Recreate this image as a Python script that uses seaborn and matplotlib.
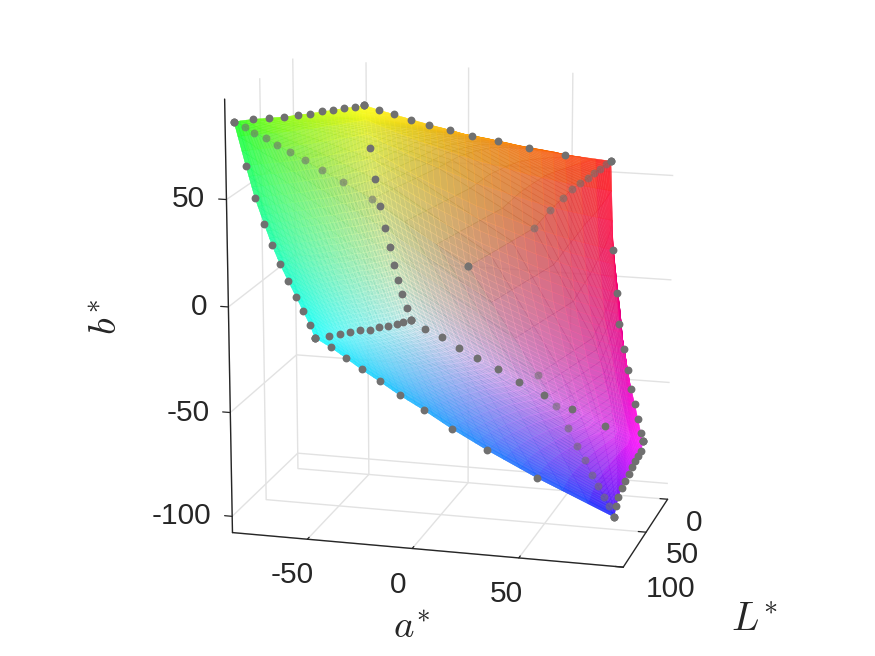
import numpy as np
import matplotlib
matplotlib.use("Agg")
import matplotlib.pyplot as plt
import seaborn as sns
from matplotlib.ticker import NullFormatter
from mpl_toolkits.mplot3d.art3d import Poly3DCollection

# Each edge of the gamut: 11 points, as (L*, a*, b*)
K_R = [(0,0,0),(16.1,35.9,24.8),(24.5,45.6,36),(30.4,52.7,43.3),(35,58.1,48.9),(38.9,62.9,52.9),(42.5,67.1,56.2),(45.4,70.7,59.4),(48.1,74.1,62.1),(51,77.3,65.2),(53.2,80.1,67.2)]
K_G = [(0,0,0),(32.2,-38,37.9),(44.6,-48.2,48),(53.4,-55.6,55.1),(60.4,-61.7,61),(66.4,-66.6,65.7),(71.5,-71.3,69.9),(76.1,-75.2,73.9),(80.3,-79.2,76.9),(84.2,-82.3,80.5),(87.7,-86.2,83.2)]
K_B = [(0,0,0),(6.5,35.8,-49),(12.2,46.2,-61.9),(16.3,52.8,-71.1),(19.6,58,-78.7),(22,62.5,-84.6),(24.6,66.6,-90.5),(27,70.2,-95.1),(29,73.6,-99.7),(30.7,76.5,-103.5),(32.3,79.2,-107.9)]
W_C = [(100,0,0),(99.2,-4,-1.4),(98.3,-7.4,-2.8),(97.5,-11.8,-4.2),(96.6,-16.2,-5.2),(95.7,-20.7,-7.1),(94.8,-25.6,-8.1),(93.9,-30.5,-9.6),(93,-35.8,-11.1),(92.1,-41.2,-12.7),(91.1,-48.1,-14.1)]
W_M = [(100,0,0),(97.1,5.7,-4.7),(94.2,12.4,-8.8),(91.1,19.5,-14),(87.7,27,-19.1),(84.1,36,-24.8),(80.3,44.9,-30.9),(76,55.6,-37.5),(71.4,67.5,-44.6),(66.3,81.9,-53.1),(60.3,98.2,-60.8)]
W_Y = [(100,0,0),(99.4,-2,5.3),(98.9,-4.5,11.5),(98.5,-6.4,17.8),(98.1,-8.4,24.5),(97.8,-10.4,32.2),(97.6,-12.7,40.8),(97.4,-15.1,50.8),(97.3,-17.4,62.7),(97.2,-19.8,76.9),(97.1,-22.2,96)]
C_G = [(91.1,-48.1,-14.1),(90.8,-50.3,-8.6),(90.4,-53.7,-2.2),(90.1,-57,4.1),(89.8,-60.8,11.2),(89.4,-64.7,18.7),(89.1,-68.5,27.3),(88.7,-72.3,37.1),(88.4,-76.6,48.8),(88,-80.8,63.3),(87.7,-86.2,83.2)]
C_B = [(91.1,-48.1,-14.1),(87.8,-41.7,-19),(84.2,-35.5,-24.7),(80.3,-29.3,-30.7),(76.1,-22,-37),(71.6,-13.7,-44.3),(66.4,-3.6,-52.2),(60.5,8.2,-62),(53.4,23.3,-73.3),(44.7,44.8,-87.6),(32.3,79.2,-107.9)]
G_Y = [(87.7,-86.2,83.2),(88.7,-76.9,85),(89.8,-68.7,86.2),(90.8,-61.5,87.3),(91.7,-54.7,88.8),(92.7,-48.5,89.9),(93.6,-42.6,91.4),(94.5,-37.3,92.4),(95.4,-31.9,93.8),(96.2,-26.6,94.8),(97.1,-22.2,96)]
Y_R = [(97.1,-22.2,96),(94.2,-16.4,93.6),(91.1,-10.3,91.3),(87.7,-3.3,88.7),(84.1,4.1,86),(80.2,12.4,83.3),(76,21.5,80.1),(71.4,32.4,77.4),(66.3,45.5,73.8),(60.3,60.7,70.5),(53.2,80.1,67.2)]
R_M = [(53.2,80.1,67.2),(54,81.8,26.4),(54.8,83.8,6.8),(55.5,85.4,-7.7),(56.2,87.9,-18.9),(56.9,89.9,-28.8),(57.5,91.7,-37.2),(58.2,93.7,-44.2),(58.9,95.3,-50.7),(59.6,97,-57.2),(60.3,98.2,-60.8)]
M_B = [(60.3,98.2,-60.8),(58.5,97,-66.1),(56.5,95.2,-69.1),(54.4,93.4,-72.6),(52,91.4,-76.2),(49.6,89.5,-80.3),(46.7,87,-85),(43.6,85,-89.7),(40.4,82.8,-95),(36.6,81.1,-100.8),(32.3,79.2,-107.9)]

a_ticks = [-50, 0, 50]
L_ticks = [0, 50, 100]
b_ticks = [-100, -50, 0, 50]
a_lim = (-86.2, 98.2)
L_lim = (100, 0)
b_lim = (-107.9, 96)

# Gamut corners as red, green, blue light levels
K, R, G, B = (0,0,0), (1,0,0), (0,1,0), (0,0,1)
C, M, Y, W = (0,1,1), (1,0,1), (1,1,0), (1,1,1)

sns.set_theme(style="white", font="Liberation Sans")
plt.rcParams["mathtext.fontset"] = "cm"

def xyz(edge):
    e = np.array(edge, float)
    return np.column_stack([e[:, 1], e[:, 0], e[:, 2]])

def encode(c):
    c = np.clip(c, 0, 1)
    return np.where(c <= 0.0031308, 12.92 * c, 1.055 * c ** (1 / 2.4) - 0.055)

def face(bottom, top, left, right, c00, c10, c01, c11, alpha, sub=3):
    bo, to, le, ri = xyz(bottom), xyz(top), xyz(left), xyz(right)
    n = len(bo)
    t = np.linspace(0, 1, n)
    c00, c10, c01, c11 = map(lambda c: np.array(c, float), (c00, c10, c01, c11))
    m = (n - 1) * sub + 1
    s = np.linspace(0, 1, m)
    def edge(e):
        return np.column_stack([np.interp(s, t, e[:, k]) for k in range(3)])
    bo2, to2, le2, ri2 = edge(bo), edge(to), edge(le), edge(ri)
    P = np.zeros((m, m, 3))
    for i, u in enumerate(s):
        for j, v in enumerate(s):
            P[i, j] = ((1 - v) * bo2[i] + v * to2[i] + (1 - u) * le2[j] + u * ri2[j]
                       - ((1 - u) * (1 - v) * bo[0] + u * (1 - v) * bo[-1]
                          + (1 - u) * v * to[0] + u * v * to[-1]))
    polys, cols = [], []
    for i in range(m - 1):
        for j in range(m - 1):
            u, v = (s[i] + s[i + 1]) / 2, (s[j] + s[j + 1]) / 2
            col = (1 - u) * (1 - v) * c00 + u * (1 - v) * c10 + (1 - u) * v * c01 + u * v * c11
            polys.append([P[i, j], P[i + 1, j], P[i + 1, j + 1], P[i, j + 1]])
            cols.append(np.append(encode(col), alpha))
    return polys, cols

fig = plt.figure(figsize=(8.75, 6.56), dpi=100)
side = 616
ax = fig.add_axes([137 / 875, 34 / 656, side / 875, side / 656], projection="3d", computed_zorder=False)
ax.set_proj_type("persp", focal_length=1)
ax.set_box_aspect((a_lim[1] - a_lim[0], abs(L_lim[1] - L_lim[0]), b_lim[1] - b_lim[0]))
ax.view_init(elev=15, azim=-75)
ax.set_xlim(*a_lim); ax.set_ylim(*L_lim); ax.set_zlim(*b_lim)

rev = lambda e: e[::-1]
back_alpha, front_alpha = 0.6, 0.62
back_faces = [
    (K_R, G_Y, K_G, rev(Y_R), K, R, G, Y, back_alpha),
    (K_R, rev(M_B), K_B, R_M, K, R, B, M, back_alpha),
    (K_G, rev(C_B), K_B, rev(C_G), K, G, B, C, back_alpha),
]
front_faces = [
    (rev(Y_R), rev(W_M), R_M, rev(W_Y), R, Y, M, W, front_alpha),
    (G_Y, rev(W_C), rev(C_G), rev(W_Y), G, Y, C, W, front_alpha),
    (rev(M_B), rev(W_C), rev(C_B), rev(W_M), B, M, C, W, front_alpha),
]
for group, z in ((back_faces, 1), (front_faces, 3)):
    polys, cols = [], []
    for f in group:
        p, c = face(*f)
        polys += p; cols += c
    surf = Poly3DCollection(polys, linewidths=0.3, zorder=z)
    surf.set_facecolor(cols)
    surf.set_edgecolor(cols)
    ax.add_collection3d(surf)

for edges, dot_alpha in (((K_R, K_G, K_B), 0.6),
                         ((W_C, W_M, W_Y, C_G, C_B, G_Y, Y_R, R_M, M_B), 1.0)):
    pts = np.vstack([xyz(e) for e in edges])
    ax.scatter(pts[:, 0], pts[:, 1], pts[:, 2], s=32, c="#707070", depthshade=False,
               linewidths=0, zorder=4, alpha=dot_alpha)

ax.set_xticks(a_ticks); ax.set_yticks(L_ticks); ax.set_zticks(b_ticks)
outward = {"x": 0.35, "y": 0.25, "z": 0.25}
for name, axis in (("x", ax.xaxis), ("y", ax.yaxis), ("z", ax.zaxis)):
    axis.set_major_formatter(NullFormatter())
    axis.set_pane_color((1, 1, 1, 0))
    axis.pane.set_edgecolor((0, 0, 0, 0))
    axis._axinfo["grid"].update(color="#e2e2e2", linewidth=1)
    axis._axinfo["tick"].update(inward_factor=0.0, outward_factor=outward[name],
                                linewidth={True: 0.9, False: 0.5})
    axis.line.set_color("#262626")
    axis.line.set_linewidth(1.0)
    axis.set_tick_params(colors="#262626")
ax.zaxis.set_ticks_position("upper")

def label(x, y, s, **kw):
    fig.text(x / 875, 1 - y / 656, s, color="#262626", va="center", **kw)

for tick, x, y in zip(a_ticks, (292, 398, 506), (575, 585, 594)):
    label(x, y, str(tick), fontsize=21.5, ha="center")
for tick, x, y in zip(L_ticks, (686, 666, 646), (523, 555, 589)):
    label(x, y, str(tick), fontsize=21.5, ha="left")
for tick, x, y in zip(b_ticks, (211, 210, 207, 205), (516, 413, 307, 199)):
    label(x, y, str(tick), fontsize=21.5, ha="right")

label(412, 628, r"$a^{\!*}$", fontsize=28, ha="center")
label(755, 620, r"$L^{\!*}$", fontsize=29, ha="center")
label(107, 317, r"$b^{\!*}$", fontsize=28, ha="center", rotation=90)
fig.savefig("out.png", dpi=100)
